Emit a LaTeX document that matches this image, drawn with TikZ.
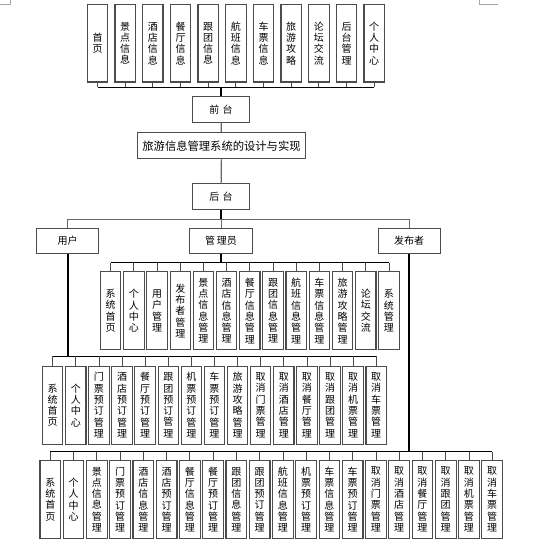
\documentclass[tikz,border=0pt]{standalone}
\usepackage{fontspec}
\setmainfont{Noto Sans CJK SC}
\usepackage{tikz}
\usetikzlibrary{positioning}

% stack the characters of a label one under the other
\newcommand\vchars[1]{\vbox{\baselineskip=11.3pt\lineskiplimit=-5pt\expandafter\vcharsloop#1\relax}}
\def\vcharsloop#1{\ifx\relax#1\else\hbox to 1em{\hss#1\hss}\expandafter\vcharsloop\fi}

\begin{document}
\begin{tikzpicture}[
    x=1pt, y=-1pt,
    font=\fontsize{10}{11.3}\selectfont,
    hbox/.style={rectangle, draw=black!70, line width=1.1pt, fill=white, inner sep=0pt, minimum height=26pt},
    vbox/.style={rectangle, draw=black!70, line width=1.1pt, fill=white, inner sep=0pt, minimum width=20.4pt, minimum height=78pt},
    trunk/.style={line width=1.8pt, black},
    bus/.style={line width=1pt, black},
    stub/.style={line width=0.8pt, black!70},
    link/.style={line width=1.2pt, black!60},
    cornermark/.style={line width=0.5pt, black!35}
]
    \useasboundingbox (0,0) rectangle (540,548);
    \draw[cornermark] (0,4.5) -- (10.3,4.5) -- (10.3,0);
    \draw[cornermark] (479.7,0) -- (479.7,4.5) -- (497.6,4.5);

    % main boxes
    \node[hbox, minimum width=57.7pt] (front) at (221,109.3) {前\,\,台};
    \node[hbox, minimum width=168.4pt, font=\fontsize{11.3}{12}\selectfont] (title) at (221.5,145.7) {旅游信息管理系统的设计与实现};
    \node[hbox, minimum width=57.7pt] (back) at (221,196.8) {后\,\,台};
    \node[hbox, minimum width=62pt, minimum height=25.4pt] (user) at (67.7,241) {用户};
    \node[hbox, minimum width=63pt, minimum height=25.4pt] (admin) at (221,241) {管\,理员};
    \node[hbox, minimum width=61.7pt, minimum height=25.4pt] (pub) at (409.2,241) {发布者};

    % front-end pages
    \foreach \t [count=\i] in {首页,景点信息,酒店信息,餐厅信息,跟团信息,航班信息,车票信息,旅游攻略,论坛交流,后台管理,个人中心}
        \node[vbox, minimum height=77.4pt] (f\i) at ({97.5+27.67*(\i-1)},43.3) {\vchars{\t}};

    % admin pages
    \foreach \t [count=\i] in {系统首页,个人中心,用户管理,发布者管理,景点信息管理,酒店信息管理,餐厅信息管理,跟团信息管理,航班信息管理,车票信息管理,旅游攻略管理,论坛交流,系统管理}
        \node[vbox] (a\i) at ({110.7+23.19*(\i-1)},310.8) {\vchars{\t}};

    % user pages
    \foreach \t [count=\i] in {系统首页,个人中心,门票预订管理,酒店预订管理,餐厅预订管理,跟团预订管理,机票预订管理,车票预订管理,旅游攻略管理,取消门票管理,取消酒店管理,取消餐厅管理,取消跟团管理,取消机票管理,取消车票管理}
        \node[vbox] (u\i) at ({52.7+23.11*(\i-1)},405.2) {\vchars{\t}};

    % publisher pages
    \foreach \t [count=\i] in {系统首页,个人中心,景点信息管理,门票预订管理,酒店信息管理,酒店预订管理,餐厅信息管理,餐厅预订管理,跟团信息管理,跟团预订管理,航班信息管理,机票预订管理,车票信息管理,车票预订管理,取消门票管理,取消酒店管理,取消餐厅管理,取消跟团管理,取消机票管理,取消车票管理}
        \node[vbox, minimum width=20.7pt, minimum height=77.6pt] (p\i) at ({50.3+23.26*(\i-1)},499.5) {\vchars{\t}};

    % bus points
    \coordinate (topbus) at (221,87.3);
    \coordinate (rolebus) at (221,219);
    \coordinate (adminbus) at (221,262.7);
    \coordinate (userbus) at (67.7,356);
    \coordinate (pubbus) at (409.2,451.7);

    % front-end tree
    \foreach \i in {1,...,11}
        \draw[stub] (f\i.south) -- (f\i.south |- topbus);
    \draw[bus] (f1.south |- topbus) -- (f11.south |- topbus);
    \draw[trunk] (topbus) -- (front);
    \draw[link] (front) -- (title);
    \draw[link] (title) -- (back);

    % roles
    \draw[trunk] (back) -- (rolebus);
    \draw[link, line width=1pt] (user.north |- rolebus) -- (pub.north |- rolebus);
    \draw[link, line width=1pt] (user.north |- rolebus) -- (user);
    \draw[link, line width=1pt] (rolebus) -- (admin);
    \draw[link, line width=1pt] (pub.north |- rolebus) -- (pub);

    % admin tree
    \draw[trunk] (admin) -- (adminbus);
    \draw[bus] (a1.north |- adminbus) -- (a13.north |- adminbus);
    \foreach \i in {1,...,13}
        \draw[stub] (a\i.north |- adminbus) -- (a\i);

    % user tree
    \draw[trunk] (user) -- (userbus);
    \draw[bus] (u1.north |- userbus) -- (u15.north |- userbus);
    \foreach \i in {1,...,15}
        \draw[stub] (u\i.north |- userbus) -- (u\i);

    % publisher tree
    \draw[trunk] (pub) -- (pubbus);
    \draw[bus] (p1.north |- pubbus) -- (p20.north |- pubbus);
    \foreach \i in {1,...,20}
        \draw[stub] (p\i.north |- pubbus) -- (p\i);
\end{tikzpicture}
\end{document}
